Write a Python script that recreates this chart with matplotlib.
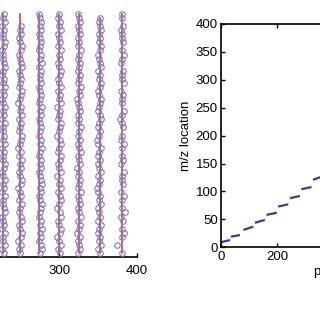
import numpy as np
import matplotlib
matplotlib.use("Agg")
import matplotlib.pyplot as plt

plt.rcParams['font.family'] = ['Liberation Sans', 'DejaVu Sans']

# ---------------- left panel data ----------------
rows = list(range(1, 61))  # pixel row index (bottom -> top)
line_x = [227.7, 249.2, 274.2, 299.6, 325.8, 352.6, 380.6]
line_row_top = [60, 60, 60, 60, 60, 59, 60]
line_row_bottom = [1, 1, 1, 1, 1, 1, 1]

off1 = [1,-2,2,0,-1,2,-2,1,0,-2,2,1,-1,0,2,-2,1,-1,2,0,-2,1,2,-1,0,1,-2,2,-1,1,0,-1,2,-2,1,0,2,-1,-2,1,0,2,-1,1,-2,0,2,1,-1,0,-2,1,2,-1,0,1,-2,2,0,1]
off2 = [0,-1,1,-2,1,2,0,-1,2,1,-1,0,2,-1,1,0,-2,1,2,0,-1,1,0,2,-1,1,-2,0,1,2,-1,0,1,-1,2,0,1,-2,0,1,2,-1,0,1,0,-1,2,1,0,-1,1,2,0,-1,1,0,1,None,None,None]
off3 = [1,3,2,0,2,1,3,1,2,0,1,2,3,1,0,2,1,3,2,1,0,2,1,2,0,1,3,1,2,0,1,2,1,0,2,1,3,0,1,2,1,0,2,1,1,2,0,3,1,2,0,1,2,1,0,2,1,2,1,0]
off4 = [1,-1,2,0,-2,1,3,0,-1,2,1,-2,0,2,1,-1,3,0,1,-2,2,0,-1,1,2,-1,0,2,1,-2,0,1,2,-1,0,1,-2,2,0,1,-1,2,0,-1,1,2,0,-1,1,0,2,-1,1,0,-1,2,0,1,-1,0]
off5 = [-1,1,0,-2,1,-3,0,1,-1,2,0,-2,1,0,-1,2,-2,0,1,-1,0,-3,1,0,-1,2,0,-2,1,-1,0,2,-1,0,-2,1,0,-1,-3,1,0,2,-1,0,1,-2,0,1,-1,0,2,-1,0,-2,1,0,-1,1,0,-1]
off6 = [0,-2,1,-1,0,-3,-1,1,-2,0,-1,-3,1,-1,0,-2,-4,-1,0,-2,1,-1,-3,0,-2,-1,1,-2,-4,-1,0,-2,-1,1,0,-2,-1,0,1,-1,-2,0,1,-1,0,-2,1,0,-1,-2,0,1,-1,0,-1,1,0,-1,0,None]
off7 = [0,None,-6,None,1,3,0,None,2,-1,4,1,None,0,3,-1,None,2,1,0,3,None,-1,2,0,None,1,3,-1,0,None,2,1,-2,0,3,None,1,0,2,-1,None,3,1,0,2,None,-1,1,3,0,None,2,1,0,-1,2,None,1,0]
offsets = [off1, off2, off3, off4, off5, off6, off7]

left_xticks = [300, 400]

# ---------------- right panel data ----------------
seg_x0 = [0, 36, 80, 121, 162, 203, 245, 285, 326]
seg_x1 = [33, 68, 115, 156, 198, 239, 280, 321, 360]
seg_y0 = [9, 19, 31, 44, 58, 73, 88, 104, 121]
seg_y1 = [13, 22, 37, 49, 62, 77, 92, 108, 127]
right_yticks = [0, 50, 100, 150, 200, 250, 300, 350, 400]
right_xticks = [0, 200, 400, 600, 800]

circle_color = '#7c7ac8'
red_color = '#e2514c'
dash_color = '#3a3a90'

W = H = 320
fig = plt.figure(figsize=(3.2, 3.2), dpi=100)

# left axes: 300 at px 59.3, 400 at px 136.7
px_per_unit = (136.7 - 59.3) / 100.0
lx0 = 59.3 - 100 * px_per_unit
axL = fig.add_axes([lx0 / W, (H - 257) / H, (200 * px_per_unit) / W, (257 - 10) / H])
for lx, top, bot, off in zip(line_x, line_row_top, line_row_bottom, offsets):
    axL.plot([lx, lx], [bot, top], color=red_color, lw=1.3, zorder=2)
    xs = [lx + o for o, r in zip(off, rows) if o is not None]
    ys = [r for o, r in zip(off, rows) if o is not None]
    axL.plot(xs, ys, linestyle='none', marker='o', ms=4.0, mfc='none',
             mec=circle_color, mew=0.8, zorder=3)
axL.set_xlim(200, 400)
axL.set_ylim(0, 61)
axL.set_xticks(left_xticks)
axL.set_xticklabels([str(t) for t in left_xticks])
axL.set_yticks([])
for s in ['top', 'right', 'left']:
    axL.spines[s].set_visible(False)
axL.spines['bottom'].set_linewidth(1.2)
axL.tick_params(axis='x', direction='in', length=3, width=1.0, pad=6, labelsize=9.5)

# right axes: 0 at px 220.7, 200 at px 277.3
rppu = (277.3 - 220.7) / 200.0
axR = fig.add_axes([220.7 / W, (H - 247.3) / H, (800 * rppu) / W, (247.3 - 24) / H])
for a, b, c, d in zip(seg_x0, seg_x1, seg_y0, seg_y1):
    axR.plot([a, b], [c, d], color=dash_color, lw=1.6, solid_capstyle='butt')
axR.set_xlim(0, 800)
axR.set_ylim(0, 400)
axR.set_yticks(right_yticks)
axR.set_xticks(right_xticks)
for s in axR.spines.values():
    s.set_linewidth(1.2)
axR.tick_params(direction='in', length=3, width=1.0, labelsize=9.5, top=True, right=True)
axR.tick_params(axis='y', pad=2)
axR.tick_params(axis='x', pad=3)
axR.set_ylabel('m/z location', fontsize=9.5, labelpad=3)
axR.set_xlabel('pixel location', fontsize=9.5)
axR.xaxis.set_label_coords(0.58, -0.084)

fig.savefig('out.png', dpi=100)
